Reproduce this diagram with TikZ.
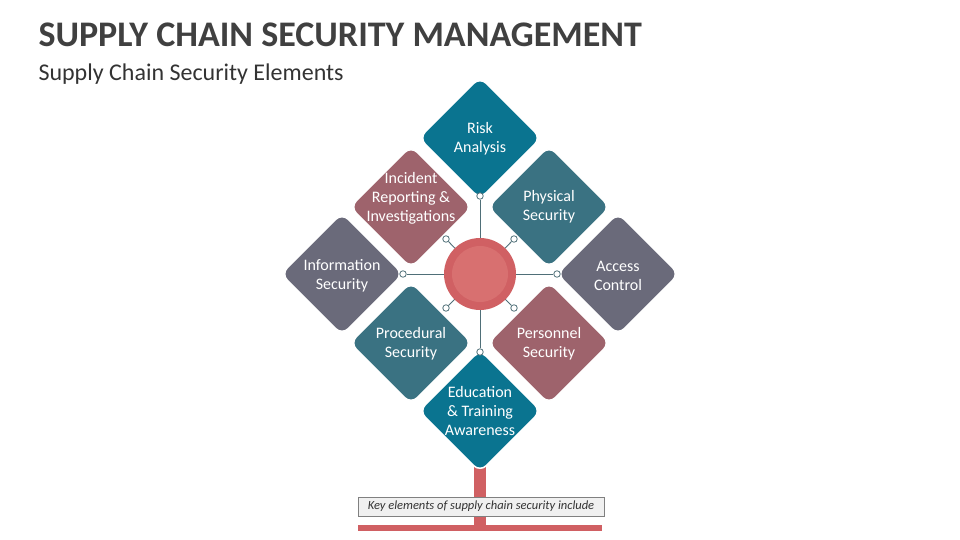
\documentclass[tikz,border=0pt]{standalone}
\usepackage{fontspec}
\setmainfont{Carlito}
\definecolor{tealA}{HTML}{0A7490}
\definecolor{tealB}{HTML}{3A7282}
\definecolor{roseC}{HTML}{9E636C}
\definecolor{greyD}{HTML}{6A6A7A}
\definecolor{redE}{HTML}{D06063}
\definecolor{redF}{HTML}{D87070}
\definecolor{lineG}{HTML}{4F6F78}
\begin{document}
\begin{tikzpicture}[x=1pt,y=-1pt,
  dia/.style={draw=white,line width=1.5pt,fill=#1,rounded corners=9pt},
  lbl/.style={text=white,font=\fontsize{16}{19}\selectfont,align=center},
  dot/.style={circle,draw=lineG,fill=white,line width=0.8pt,inner sep=0pt,minimum size=6.5pt},
  conn/.style={draw=lineG,line width=0.9pt}]
\useasboundingbox (0,0) rectangle (960,540);
\node[anchor=west,font=\fontsize{36}{40}\selectfont\bfseries,text=black!75] (title) at (35,35) {SUPPLY CHAIN SECURITY MANAGEMENT};
\node[anchor=west,font=\fontsize{24}{28}\selectfont,text=black!80] (sub) at (35,74) {Supply Chain Security Elements};
% stem and base
\fill[redE] (474,460) rectangle (486,528);
\fill[redE] (358,525) rectangle (602,531);
\node[draw=gray,fill=black!6,minimum width=246pt,minimum height=19pt,inner sep=0pt,font=\fontsize{12.5}{14}\selectfont\itshape,text=black!80] (key) at (481,506.5) {Key elements of supply chain security include};
% diamonds
\foreach \cx/\cy/\col in {480/138/tealA,549/207/tealB,411/207/roseC,342/274/greyD,618/274/greyD,411/343/tealB,549/343/roseC,480/411/tealA}{
  \draw[dia=\col] (\cx,\cy-61) -- (\cx+61,\cy) -- (\cx,\cy+61) -- (\cx-61,\cy) -- cycle;
}
% connectors
\coordinate (c) at (480,274);
\node[dot] (d1) at (480,196) {};
\node[dot] (d2) at (480,352) {};
\node[dot] (d3) at (403,274) {};
\node[dot] (d4) at (557,274) {};
\node[dot] (d5) at (446,239) {};
\node[dot] (d6) at (514,239) {};
\node[dot] (d7) at (446,308) {};
\node[dot] (d8) at (514,308) {};
\foreach \d in {d1,d2,d3,d4,d5,d6,d7,d8} \draw[conn] (c) -- (\d);
\node[circle,fill=redE,minimum size=72pt,inner sep=0pt] (co) at (480,274) {};
\node[circle,fill=redF,minimum size=56pt,inner sep=0pt] (ci) at (480,274) {};
\node[lbl] (risk) at (480,139) {Risk\\Analysis};
\node[lbl] (phys) at (549,207) {Physical\\Security};
\node[lbl] (inc) at (411,198) {Incident\\Reporting \&\\Investigations};
\node[lbl] (info) at (342,276) {Information\\Security};
\node[lbl] (acc) at (618,276) {Access\\Control};
\node[lbl] (proc) at (411,344) {Procedural\\Security};
\node[lbl] (pers) at (549,344) {Personnel\\Security};
\node[lbl] (edu) at (480,411) {Education\\\& Training\\Awareness};
\end{tikzpicture}
\end{document}
